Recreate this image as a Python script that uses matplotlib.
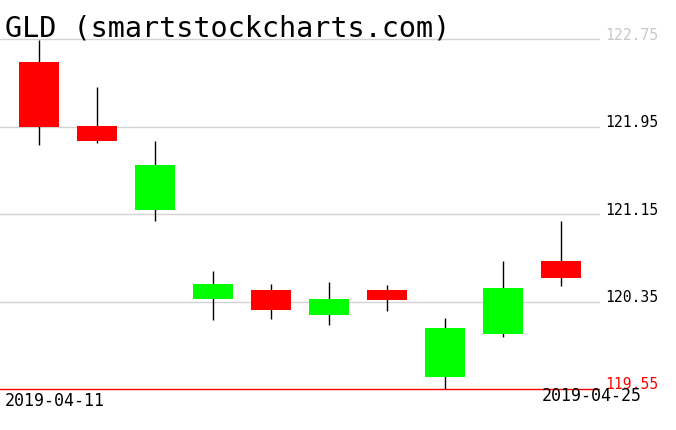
import matplotlib
matplotlib.use("Agg")
import matplotlib.pyplot as plt
import matplotlib.transforms as mtransforms

# daily GLD candles, 2019-04-11 .. 2019-04-25
dates = ["2019-04-11", "2019-04-12", "2019-04-15", "2019-04-16", "2019-04-17",
         "2019-04-18", "2019-04-22", "2019-04-23", "2019-04-24", "2019-04-25"]
opens = [122.54, 121.96, 121.19, 120.37, 120.46, 120.23, 120.46, 119.66, 120.05, 120.72]
closes = [121.95, 121.82, 121.60, 120.51, 120.27, 120.37, 120.36, 120.11, 120.47, 120.57]
highs = [122.74, 122.31, 121.82, 120.63, 120.51, 120.53, 120.50, 120.20, 120.72, 121.09]
lows = [121.78, 121.80, 121.09, 120.18, 120.19, 120.14, 120.26, 119.55, 120.03, 120.49]

price_levels = [122.75, 121.95, 121.15, 120.35, 119.55]
title = "GLD (smartstockcharts.com)"

plt.rcParams["font.family"] = "DejaVu Sans Mono"

W, H = 676, 431
fig = plt.figure(figsize=(W / 100, H / 100), dpi=100)
ax = fig.add_axes([0, 0, 600 / W, 1])
ax.set_axis_off()

# pixel mapping: 122.75 -> y=40.3, 119.55 -> y=390
px_per_unit = (390 - 40.3) / (122.75 - 119.55)
ax.set_ylim(122.75 - (H - 40.3) / px_per_unit, 122.75 + 40.3 / px_per_unit)
ax.set_xlim(-39 / 58, (600 - 39) / 58)

# horizontal price levels
trans = mtransforms.blended_transform_factory(ax.transAxes, ax.transData)
for i, lvl in enumerate(price_levels):
    is_last = i == len(price_levels) - 1
    ax.axhline(lvl, color="#ff0000" if is_last else "#d3d3d3", lw=1.0, zorder=1)
    if i == 0:
        col = "#c8c8c8"
    elif is_last:
        col = "#ff0000"
    else:
        col = "black"
    ax.text(605 / 600, lvl + 0.005, f"{lvl:.2f}", transform=trans, color=col,
            fontsize=10.6, va="baseline", ha="left", clip_on=False)

xs = list(range(len(dates)))
colors = ["#00ff00" if c >= o else "#ff0000" for o, c in zip(opens, closes)]
ax.vlines(xs, lows, highs, color="black", lw=1.0, zorder=2)
bottoms = [min(o, c) for o, c in zip(opens, closes)]
heights = [abs(c - o) for o, c in zip(opens, closes)]
ax.bar(xs, heights, bottom=bottoms, width=40 / 58, color=colors,
       edgecolor="none", zorder=3)

fig.text(5 / W, 1 - 37 / H, title, fontsize=20.5, va="baseline", ha="left")
fig.text(5 / W, 1 - 406 / H, dates[0], fontsize=12, va="baseline", ha="left")
fig.text(542 / W, 1 - 401 / H, dates[-1], fontsize=12, va="baseline", ha="left")

fig.savefig("out.png", dpi=100)
